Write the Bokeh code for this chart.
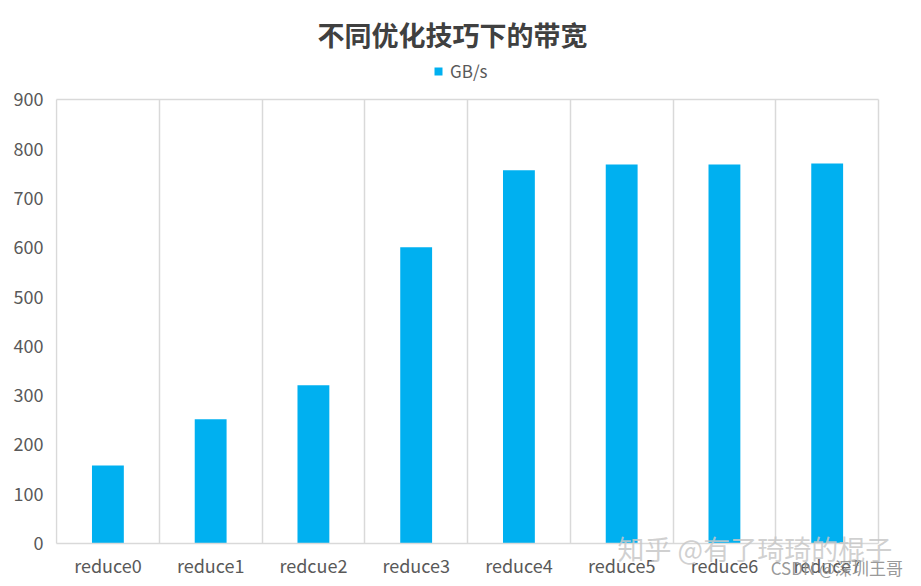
from bokeh.embed import file_html
from bokeh.models import ColumnDataSource, FixedTicker, Label, Legend, LegendItem, Range1d
from bokeh.plotting import figure
from bokeh.resources import INLINE

categories = ["reduce0", "reduce1", "redcue2", "reduce3", "reduce4", "reduce5", "reduce6", "reduce7"]
bandwidth = [157, 251, 320, 600, 756, 768, 768, 770]
y_ticks = [0, 100, 200, 300, 400, 500, 600, 700, 800, 900]

FONT = "Noto Sans CJK SC"
BAR_COLOR = "#00B0F0"
GRID_COLOR = "#D9D9D9"
TEXT_COLOR = "#595959"

n = len(categories)
# bars sit in the middle of each category slot, slots are 1 unit wide
centers = [i + 0.5 for i in range(n)]
source = ColumnDataSource(data=dict(x=centers, top=bandwidth, name=categories))

# the frame reaches past the value box so the legend and the watermark are not clipped
p = figure(width=913, height=578, output_backend="svg", toolbar_location=None,
           x_range=Range1d(-0.01, 8.34), y_range=Range1d(-72, 989),
           min_border_left=55, min_border_right=0, min_border_bottom=0, min_border_top=55)
p.outline_line_color = None

p.title.text = "不同优化技巧下的带宽"
p.title.align = "left"
p.title.offset = 262
p.title.text_font = FONT
p.title.text_font_size = "27px"
p.title.text_font_style = "bold"
p.title.text_color = "#404040"
p.title.standoff = 4

bars = p.vbar(x="x", top="top", width=0.31, source=source, fill_color=BAR_COLOR, line_color=None)

legend = Legend(items=[LegendItem(label="GB/s", renderers=[bars])], orientation="horizontal",
                location=(378, 495), border_line_color=None, background_fill_alpha=0,
                label_text_font=FONT, label_text_font_size="17px", label_text_color=TEXT_COLOR,
                glyph_width=10, glyph_height=10, label_height=20, label_standoff=7,
                padding=0, margin=0)
p.add_layout(legend, "center")

# category separators plus the box edges at 0, n and 900
p.xgrid.ticker = FixedTicker(ticks=list(range(0, n + 1)))
p.xgrid.cross_bounds = (0, 900)
p.xgrid.grid_line_color = GRID_COLOR
p.xgrid.grid_line_width = 1.5
p.ygrid.ticker = FixedTicker(ticks=[900])
p.ygrid.cross_bounds = (0, n)
p.ygrid.grid_line_color = GRID_COLOR
p.ygrid.grid_line_width = 1.5

p.xaxis.fixed_location = 0
p.xaxis.bounds = (0, n)
p.xaxis.ticker = FixedTicker(ticks=centers)
p.xaxis.major_label_overrides = {c: name for c, name in zip(centers, categories)}
p.xaxis.axis_line_color = GRID_COLOR
p.xaxis.axis_line_width = 1.5
p.xaxis.major_tick_line_color = None
p.xaxis.minor_tick_line_color = None
p.xaxis.major_label_standoff = 3
p.xaxis.major_label_text_font = FONT
p.xaxis.major_label_text_font_size = "18px"
p.xaxis.major_label_text_color = TEXT_COLOR

p.yaxis.ticker = FixedTicker(ticks=y_ticks)
p.yaxis.bounds = (0, 900)
p.yaxis.axis_line_color = None
p.yaxis.major_tick_line_color = None
p.yaxis.minor_tick_line_color = None
p.yaxis.major_label_standoff = 6
p.yaxis.major_label_text_font = FONT
p.yaxis.major_label_text_font_size = "18px"
p.yaxis.major_label_text_color = TEXT_COLOR

# source watermarks stamped over the lower right corner
p.add_layout(Label(x=5.46, y=-12, text="知乎 @有了琦琦的棍子", text_font=FONT,
                   text_font_size="27px", text_color="#C8C8C8", text_alpha=0.85,
                   text_baseline="middle"))
p.add_layout(Label(x=6.95, y=-50, text="CSDN @深圳王哥", text_font=FONT,
                   text_font_size="17px", text_color="#8C8C8C", text_alpha=0.9,
                   text_baseline="middle"))

open("out.html", "w").write(file_html(p, INLINE))
